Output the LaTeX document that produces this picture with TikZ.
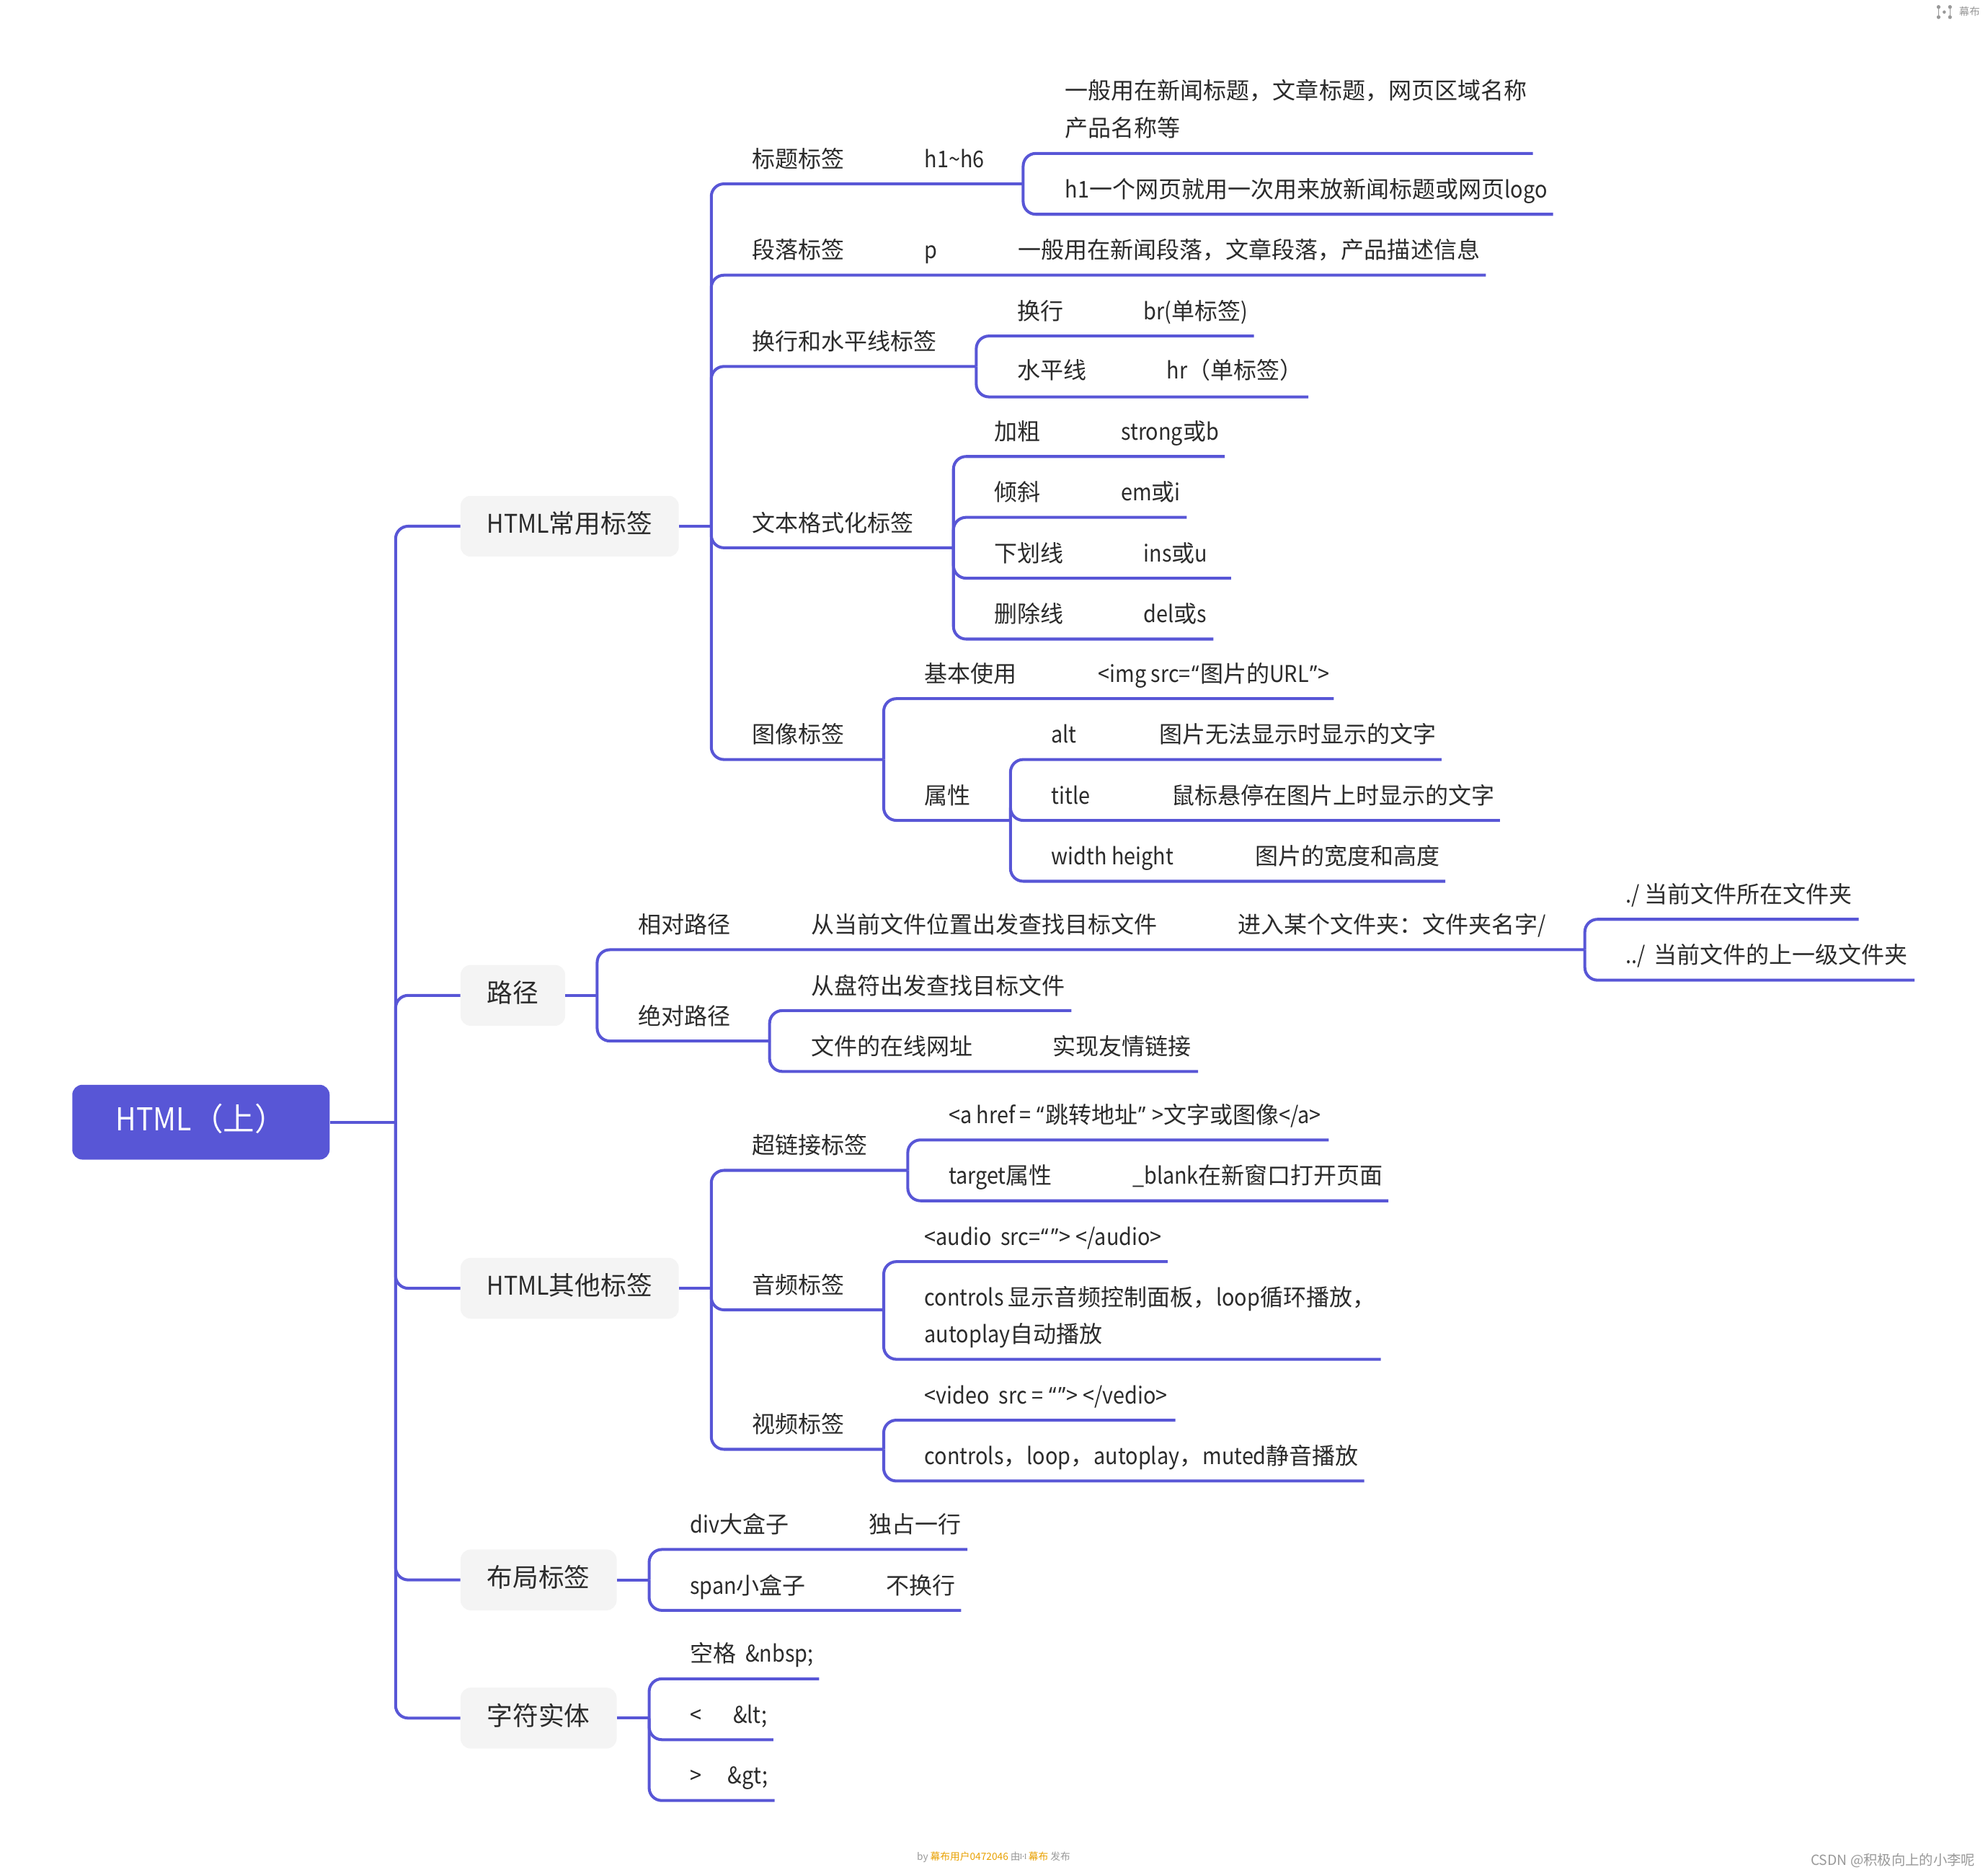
\documentclass[tikz,border=0pt]{standalone}
\usepackage{fontspec}
\setmainfont{Noto Sans CJK SC}
\newfontfamily\narrowfont[FakeStretch=0.9]{Noto Sans CJK SC}
\newfontfamily\latinfont[FakeStretch=0.9]{Noto Sans}
\usetikzlibrary{positioning}
\definecolor{branchcol}{HTML}{5856D6}
\definecolor{boxcol}{HTML}{F4F4F4}
\definecolor{textcol}{HTML}{2B2B2B}
\definecolor{markcol}{HTML}{999999}
\definecolor{usercol}{HTML}{E8A000}
\newcommand{\la}[1]{{\narrowfont #1}}
\newcommand{\qq}[1]{{\latinfont\kern0.8pt #1\kern0.8pt}}
\tikzstyle{branch} = [draw=branchcol, line width=2.3pt, rounded corners=10pt]
\tikzstyle{rootbox} = [fill=branchcol, text=white, rounded corners=8pt, font=\fontsize{24.8}{24.8}\selectfont, minimum width=203pt, minimum height=59pt, inner xsep=0pt, inner ysep=0pt, text height=18pt, text depth=5pt]
\tikzstyle{topbox} = [fill=boxcol, text=textcol, rounded corners=8pt, font=\fontsize{20.3}{20.3}\selectfont, anchor=west, minimum height=48pt, inner xsep=21pt, inner ysep=0pt, text height=15pt, text depth=4pt]
\tikzstyle{lab} = [text=textcol, anchor=base west, inner sep=0pt, yshift=-1pt, font=\fontsize{18.2}{18.2}\selectfont]
\tikzstyle{stamp} = [anchor=base west, inner sep=0pt, text=markcol]
\tikzset{logodots/.pic={
	\fill [markcol] (-4.5,-4) circle (1.5pt) (-4.5,4) circle (1.5pt) (4.5,-4) circle (1.5pt) (4.5,4) circle (1.5pt) (0,0) circle (1.3pt);
	\draw [markcol, line width=0.8pt] (-4.5,-4) -- (-4.5,4) (4.5,-4) -- (4.5,4);
}}

\begin{document}
\begin{tikzpicture}[x=1pt, y=-1pt]
	\useasboundingbox (0,0) rectangle (1568,1478.2);

	\node [rootbox] (root) at (158.5, 885) {\la{HTML}（上）};
	\node [topbox] (common) at (363, 415) {\la{HTML}常用标签};
	\node [topbox] (path) at (363, 785) {路径};
	\node [topbox] (other) at (363, 1016) {\la{HTML}其他标签};
	\node [topbox] (layout) at (363, 1246) {布局标签};
	\node [topbox] (entity) at (363, 1355) {字符实体};

	\coordinate (trunk) at (312, 885);
	\path [branch] (root) -- (trunk);
	\path [branch] (trunk) |- (common);
	\path [branch] (trunk) |- (path);
	\path [branch] (trunk) |- (other);
	\path [branch] (trunk) |- (layout);
	\path [branch] (trunk) |- (entity);

	% HTML常用标签
	\coordinate (commonj) at (561, 415);
	\path [branch] (common) -- (commonj);
	\node [lab] (heading) at (593, 131) {标题标签};
	\node [lab] (hn) at (729, 131) {\la{h1\textasciitilde h6}};
	\node [lab] (para) at (593, 203) {段落标签};
	\node [lab] (ptag) at (729, 203) {\la{p}};
	\node [lab] (paradesc) at (803, 203) {一般用在新闻段落，文章段落，产品描述信息};
	\node [lab] (brhr) at (593, 275) {换行和水平线标签};
	\node [lab] (format) at (593, 418) {文本格式化标签};
	\node [lab] (image) at (593, 585) {图像标签};
	\coordinate (headinge) at (807, 145);
	\coordinate (parae) at (1172, 217);
	\coordinate (brhre) at (770, 289);
	\coordinate (formate) at (752, 432);
	\coordinate (imagee) at (697, 599);
	\path [branch] (commonj) |- (headinge);
	\path [branch] (commonj) |- (parae);
	\path [branch] (commonj) |- (brhre);
	\path [branch] (commonj) |- (formate);
	\path [branch] (commonj) |- (imagee);

	\node [lab] (hnuse) at (840, 77) {一般用在新闻标题，文章标题，网页区域名称};
	\node [lab] (hnuse2) at (840, 107) {产品名称等};
	\node [lab] (hone) at (840, 155) {\la{h1}一个网页就用一次用来放新闻标题或网页\la{logo}};
	\coordinate (hnusee) at (1209, 121);
	\coordinate (honee) at (1225, 169);
	\path [branch] (headinge) |- (hnusee);
	\path [branch] (headinge) |- (honee);

	\node [lab] (brk) at (802, 251) {换行};
	\node [lab] (brtag) at (902, 251) {\la{br(}单标签\la{)}};
	\node [lab] (hrule) at (802, 298) {水平线};
	\node [lab] (hrtag) at (920, 298) {\la{hr}（单标签）};
	\coordinate (brke) at (989, 265);
	\coordinate (hrulee) at (1032, 313);
	\path [branch] (brhre) |- (brke);
	\path [branch] (brhre) |- (hrulee);

	\node [lab] (bold) at (784, 346) {加粗};
	\node [lab] (boldtag) at (884, 346) {\la{strong}或\la{b}};
	\node [lab] (italic) at (784, 394) {倾斜};
	\node [lab] (italictag) at (884, 394) {\la{em}或\la{i}};
	\node [lab] (under) at (784, 442) {下划线};
	\node [lab] (undertag) at (902, 442) {\la{ins}或\la{u}};
	\node [lab] (strike) at (784, 490) {删除线};
	\node [lab] (striketag) at (902, 490) {\la{del}或\la{s}};
	\coordinate (bolde) at (966, 360);
	\coordinate (italice) at (936, 408);
	\coordinate (undere) at (971, 456);
	\coordinate (strikee) at (957, 504);
	\path [branch] (formate) |- (bolde);
	\path [branch] (formate) |- (italice);
	\path [branch] (formate) |- (undere);
	\path [branch] (formate) |- (strikee);

	\node [lab] (basic) at (729, 537) {基本使用};
	\node [lab] (imgtag) at (866, 537) {\la{<img src=}\qq{“}图片的\la{URL}\qq{”}\la{>}};
	\node [lab] (attr) at (729, 633) {属性};
	\coordinate (basice) at (1052, 551);
	\coordinate (attre) at (797, 647);
	\path [branch] (imagee) |- (basice);
	\path [branch] (imagee) |- (attre);

	\node [lab] (alt) at (829, 585) {\la{alt}};
	\node [lab] (altdesc) at (914, 585) {图片无法显示时显示的文字};
	\node [lab] (titleattr) at (829, 633) {\la{title}};
	\node [lab] (titledesc) at (924, 633) {鼠标悬停在图片上时显示的文字};
	\node [lab] (size) at (829, 681) {\la{width height}};
	\node [lab] (sizedesc) at (990, 681) {图片的宽度和高度};
	\coordinate (alte) at (1137, 599);
	\coordinate (titleattre) at (1183, 647);
	\coordinate (sizee) at (1140, 695);
	\path [branch] (attre) |- (alte);
	\path [branch] (attre) |- (titleattre);
	\path [branch] (attre) |- (sizee);

	% 路径
	\coordinate (pathj) at (471, 785);
	\path [branch] (path) -- (pathj);
	\node [lab] (rel) at (503, 735) {相对路径};
	\node [lab] (reldesc) at (639.5, 735) {从当前文件位置出发查找目标文件};
	\node [lab] (relenter) at (976, 735) {进入某个文件夹：文件夹名字\la{/}};
	\node [lab] (abs) at (503, 807) {绝对路径};
	\coordinate (rele) at (1250, 749);
	\coordinate (abse) at (607, 821);
	\path [branch] (pathj) |- (rele);
	\path [branch] (pathj) |- (abse);

	\node [lab] (cur) at (1282, 711) {\la{./ }当前文件所在文件夹};
	\node [lab] (up) at (1282, 759) {\la{../ }\kern3pt 当前文件的上一级文件夹};
	\coordinate (cure) at (1466, 725);
	\coordinate (upe) at (1510, 773);
	\path [branch] (rele) |- (cure);
	\path [branch] (rele) |- (upe);

	\node [lab] (disk) at (639.5, 783) {从盘符出发查找目标文件};
	\node [lab] (url) at (639.5, 831) {文件的在线网址};
	\node [lab] (link) at (830, 831) {实现友情链接};
	\coordinate (diske) at (845, 797);
	\coordinate (urle) at (945, 845);
	\path [branch] (abse) |- (diske);
	\path [branch] (abse) |- (urle);

	% HTML其他标签
	\coordinate (otherj) at (561, 1016);
	\path [branch] (other) -- (otherj);
	\node [lab] (hlink) at (593, 909) {超链接标签};
	\node [lab] (audio) at (593, 1019) {音频标签};
	\node [lab] (video) at (593, 1129) {视频标签};
	\coordinate (hlinke) at (716, 923);
	\coordinate (audioe) at (697, 1033);
	\coordinate (videoe) at (697, 1143);
	\path [branch] (otherj) |- (hlinke);
	\path [branch] (otherj) |- (audioe);
	\path [branch] (otherj) |- (videoe);

	\node [lab] (href) at (748, 885) {\la{<a href = }\qq{“}跳转地址\qq{”}\la{ >}文字或图像\la{</a>}};
	\node [lab] (target) at (748, 933) {\la{target}属性};
	\node [lab] (blank) at (893, 933) {\la{\_blank}在新窗口打开页面};
	\coordinate (hrefe) at (1048, 899);
	\coordinate (targete) at (1095, 947);
	\path [branch] (hlinke) |- (hrefe);
	\path [branch] (hlinke) |- (targete);

	\node [lab] (audiotag) at (729, 981) {\la{<audio\ \ src=}\qq{“}\qq{”}\la{> </audio>}};
	\node [lab] (audioctl) at (729, 1029) {\la{controls }显示音频控制面板，\la{loop}循环播放，};
	\node [lab] (audioctl2) at (729, 1058) {\la{autoplay}自动播放};
	\coordinate (audiotage) at (921, 995);
	\coordinate (audioctle) at (1089, 1072);
	\path [branch] (audioe) |- (audiotage);
	\path [branch] (audioe) |- (audioctle);

	\node [lab] (videotag) at (729, 1106) {\la{<video\ \ src = }\qq{“}\qq{”}\la{> </vedio>}};
	\node [lab] (videoctl) at (729, 1154) {\la{controls}，\la{loop}，\la{autoplay}，\la{muted}静音播放};
	\coordinate (videotage) at (927, 1120);
	\coordinate (videoctle) at (1076, 1168);
	\path [branch] (videoe) |- (videotage);
	\path [branch] (videoe) |- (videoctle);

	% 布局标签
	\coordinate (layoutj) at (512, 1246);
	\path [branch] (layout) -- (layoutj);
	\node [lab] (div) at (544, 1208) {\la{div}大盒子};
	\node [lab] (divdesc) at (685, 1208) {独占一行};
	\node [lab] (span) at (544, 1256) {\la{span}小盒子};
	\node [lab] (spandesc) at (699, 1256) {不换行};
	\coordinate (dive) at (763, 1222);
	\coordinate (spane) at (758, 1270);
	\path [branch] (layoutj) |- (dive);
	\path [branch] (layoutj) |- (spane);

	% 字符实体
	\coordinate (entityj) at (512, 1355);
	\path [branch] (entity) -- (entityj);
	\node [lab] (nbsp) at (544, 1310) {空格\la{\ \ \&nbsp;}};
	\node [lab] (ltsign) at (544, 1358) {\la{<}};
	\node [lab] (lt) at (578, 1358) {\la{\&lt;}};
	\node [lab] (gtsign) at (544, 1406) {\la{>}};
	\node [lab] (gt) at (574, 1406) {\la{\&gt;}};
	\coordinate (nbspe) at (646, 1324);
	\coordinate (lte) at (610, 1372);
	\coordinate (gte) at (611, 1420);
	\path [branch] (entityj) |- (nbspe);
	\path [branch] (entityj) |- (lte);
	\path [branch] (entityj) |- (gte);

	% marks
	\pic at (1533.5, 9.5) {logodots};
	\node [stamp, font=\fontsize{8.2}{8.2}\selectfont] (brand) at (1545, 12.5) {幕布};
	\node [stamp, font=\fontsize{7.8}{7.8}\selectfont] (byline) at (723, 1467) {by \textcolor{usercol}{幕布用户0472046} 由};
	\pic [scale=0.4] at (807, 1464) {logodots};
	\node [stamp, font=\fontsize{7.8}{7.8}\selectfont] (byline2) at (811, 1467) {\textcolor{usercol}{幕布} 发布};
	\node [stamp, font=\fontsize{11}{11}\selectfont] (csdn) at (1428, 1471) {CSDN @积极向上的小李呢};
\end{tikzpicture}
\end{document}
